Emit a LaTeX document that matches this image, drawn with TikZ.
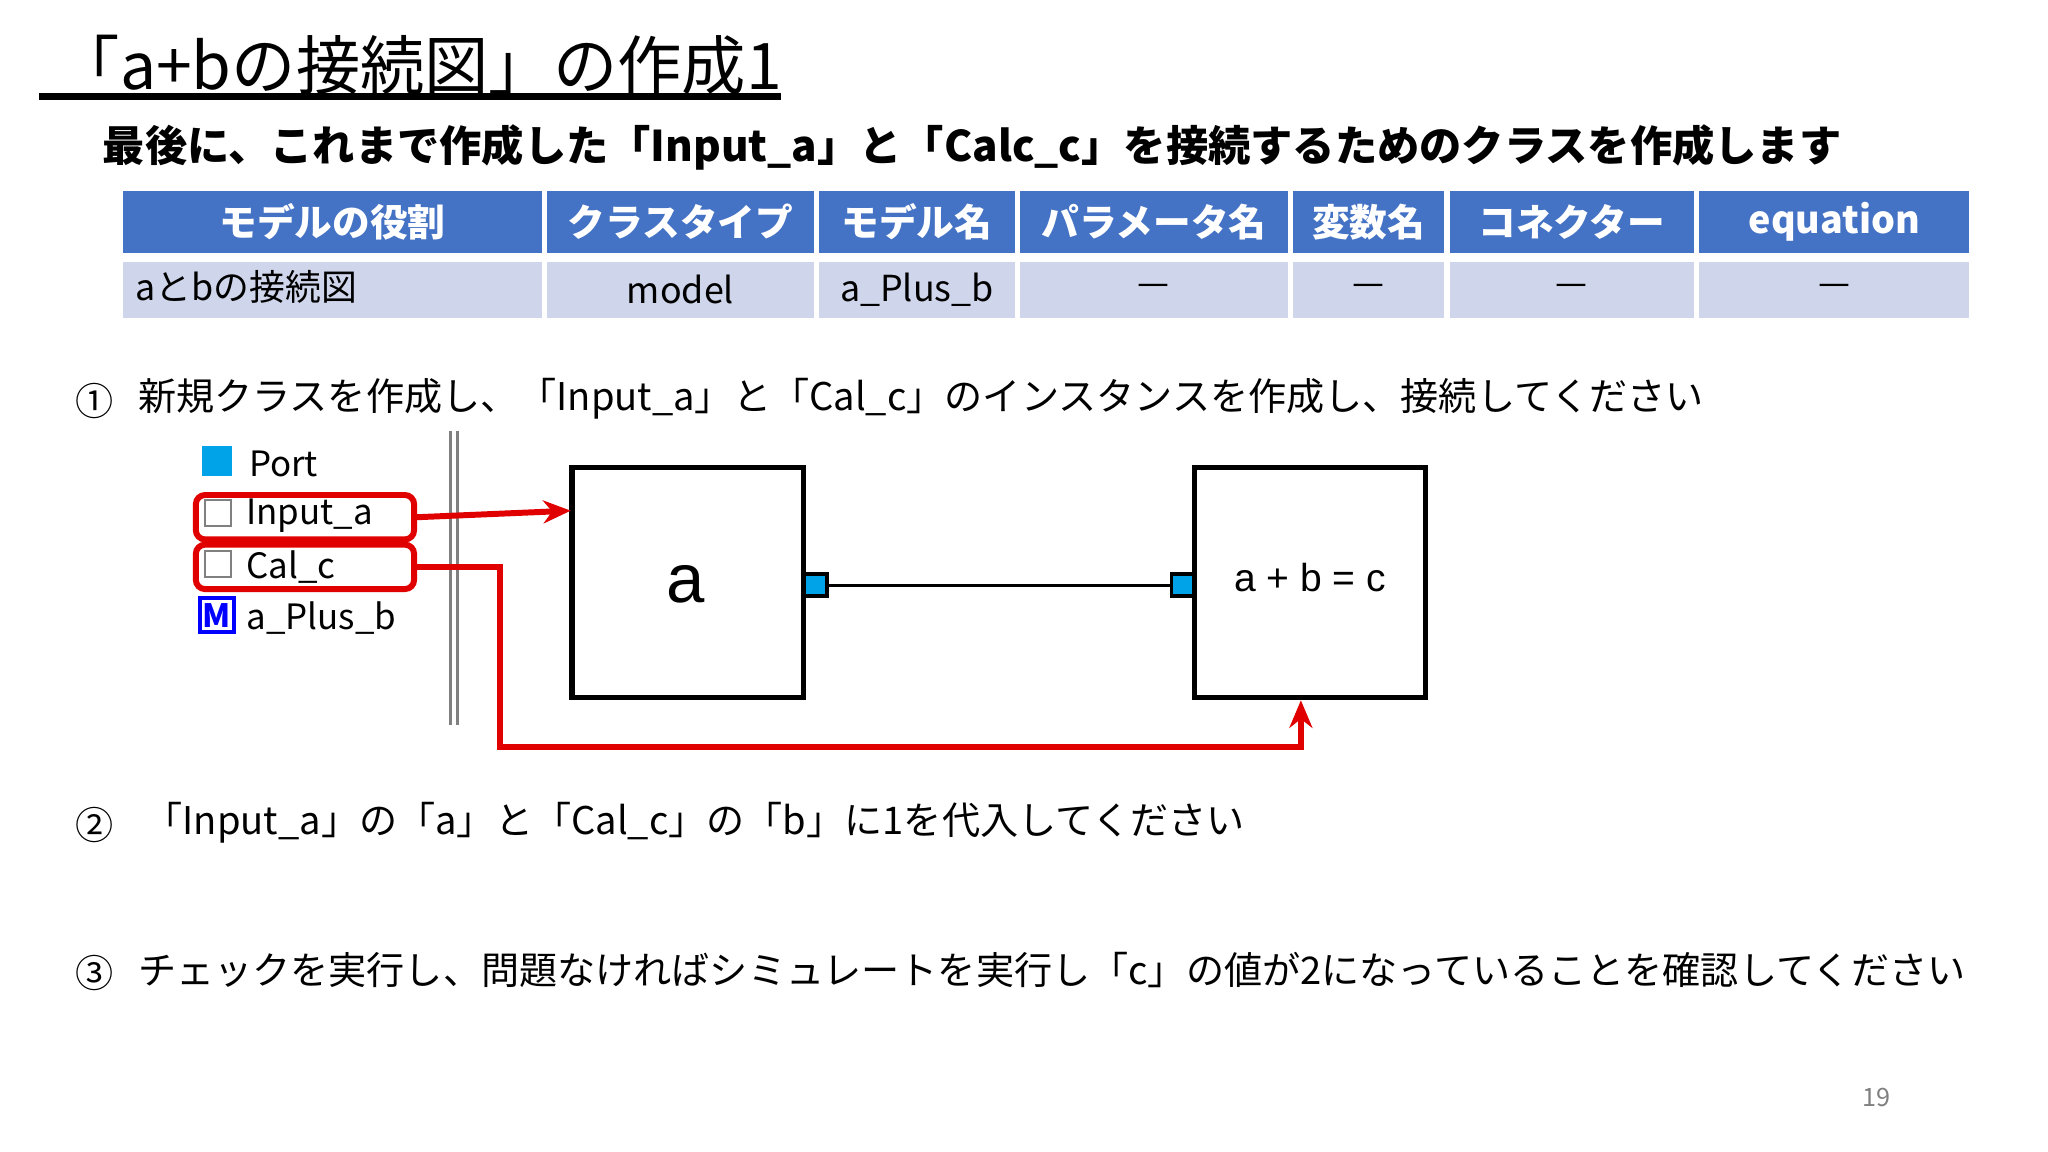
\documentclass[tikz,border=0pt]{standalone}
\usepackage{fontspec}
\setmainfont{Noto Sans CJK JP}
\newfontfamily\arialf{Liberation Sans}
\usetikzlibrary{arrows.meta}
\definecolor{hdr}{HTML}{4472C4}
\definecolor{rowc}{HTML}{CFD5EA}
\definecolor{portb}{HTML}{00A2E8}
\definecolor{redl}{HTML}{E00000}
\tikzset{
 hcell/.style={fill=hdr,draw=white,line width=1.2pt,text=white,font=\fontsize{8.2}{9}\selectfont\bfseries,inner sep=0pt},
 rcell/.style={fill=rowc,draw=white,line width=1.2pt,font=\fontsize{7.8}{9}\selectfont,inner sep=0pt},
 body/.style={font=\fontsize{8.3}{9}\selectfont,anchor=west,inner sep=0pt},
 tree/.style={font=\fontsize{7.6}{9}\selectfont,anchor=west,inner sep=0pt},
 blk/.style={draw=black,line width=1.2pt,minimum width=1.77cm,minimum height=1.76cm,inner sep=0pt},
 prt/.style={draw=black,fill=portb,line width=0.8pt,minimum size=0.17cm,inner sep=0pt},
 redbox/.style={draw=redl,line width=1.3pt,rounded corners=2pt,minimum width=1.67cm,minimum height=0.34cm,inner sep=0pt},
 redar/.style={draw=redl,line width=1.3pt,-{Stealth[length=6pt,width=5pt]}},
 docic/.style={draw=gray,fill=white,line width=0.4pt,minimum width=0.2cm,minimum height=0.2cm,inner sep=0pt}
}
\begin{document}
\begin{tikzpicture}[x=0.01cm,y=-0.01cm]
\useasboundingbox (0,0) rectangle (1568,882);
\node[anchor=west,inner sep=0pt,font=\fontsize{14}{15}\selectfont] (title) at (42,50) {「a+bの接続図」の作成1};
\draw[line width=1.5pt] (30,74) -- (598,74);
\node[anchor=west,inner sep=0pt,font=\fontsize{9.2}{10}\selectfont\bfseries] (sub) at (78,113) {最後に、これまで作成した「Input\_a」と「Calc\_c」を接続するためのクラスを作成します};
% table
\foreach \a/\b/\t [count=\i] in {92/417/モデルの役割,417/625/クラスタイプ,625/779/モデル名,779/988/パラメータ名,988/1108/変数名,1108/1299/コネクター,1299/1510/equation}{
 \node[hcell,minimum width={(\b-\a)*0.01cm},minimum height=0.51cm] (h\i) at ({(\a+\b)/2},170) {\t};
}
\node[rcell,minimum width=3.25cm,minimum height=0.47cm] (r1) at (254.5,222) {};
\node[anchor=west,inner sep=0pt,font=\fontsize{7.8}{9}\selectfont] (r1t) at (103,220) {aとbの接続図};
\foreach \a/\b/\t [count=\i from 2] in {417/625/model,625/779/a\_Plus\_b,779/988/—,988/1108/—,1108/1299/—,1299/1510/—}{
 \node[rcell,minimum width={(\b-\a)*0.01cm},minimum height=0.47cm] (r\i) at ({(\a+\b)/2},222) {\t};
}
% steps
\node[body] (n1) at (57,307) {①};
\node[body] (s1) at (105,305) {新規クラスを作成し、「Input\_a」と「Cal\_c」のインスタンスを作成し、接続してください};
\node[body] (n2) at (57,632) {②};
\node[body] (s2) at (110,630) {「Input\_a」の「a」と「Cal\_c」の「b」に1を代入してください};
\node[body] (n3) at (57,745) {③};
\node[body] (s3) at (105,743) {チェックを実行し、問題なければシミュレートを実行し「c」の値が2になっていることを確認してください};
% tree panel
\draw[gray,line width=0.6pt] (345,330) -- (345,555) (350,330) -- (350,555);
\node[fill=portb,minimum size=0.23cm,inner sep=0pt] (pic) at (166,353) {};
\node[tree] (pt) at (190,355) {Port};
\node[docic] (ic1) at (167,393) {};
\node[tree] (ia) at (188,395) {Input\_a};
\node[docic] (ic2) at (167,432) {};
\node[tree] (cc) at (188,434) {Cal\_c};
\node[draw=blue,fill=white,line width=0.8pt,minimum size=0.26cm,inner sep=0pt,text=blue,font=\fontsize{7}{8}\selectfont\bfseries] (mic) at (166,471) {M};
\node[tree] (ap) at (188,473) {a\_Plus\_b};
\node[redbox] (rb1) at (233.5,396) {};
\node[redbox] (rb2) at (233.5,434) {};
% blocks
\node[blk] (A) at (526.5,446) {};
\node[font=\arialf\fontsize{15}{16}\selectfont] (Al) at (525,447) {a};
\node[blk] (B) at (1003,446) {};
\node[font=\arialf\fontsize{8.5}{10}\selectfont] (Bl) at (1003,442) {a + b = c};
\node[prt] (pa) at (624.5,448) {};
\node[prt] (pb) at (905.5,448) {};
\draw[line width=0.6pt] (pa.east) -- (pb.west);
% red arrows
\coordinate (t1) at (437,391);
\draw[redar] (rb1.east) -- (t1);
\coordinate (c1) at (383,434);
\coordinate (c2) at (383,572);
\coordinate (c3) at (996,572);
\draw[redar] (rb2.east) -- (c1) -- (c2) -- (c3) -- (B.south -| c3);
\node[text=gray,font=\fontsize{5.5}{6}\selectfont] (pg) at (1437,840) {19};
\end{tikzpicture}
\end{document}
